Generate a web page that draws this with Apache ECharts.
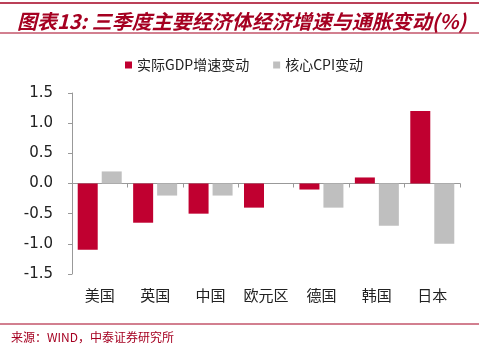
<!DOCTYPE html>
<html>
<head>
<meta charset="utf-8">
<script src="https://cdn.jsdelivr.net/npm/echarts@6/dist/echarts.min.js"></script>
<style>
  html, body { margin: 0; padding: 0; background: #fff; }
  #chart { width: 479px; height: 351px; }
</style>
</head>
<body>
<div id="chart"></div>
<script>
// 数据
var countries = ['美国', '英国', '中国', '欧元区', '德国', '韩国', '日本'];
var gdpChange = [-1.1, -0.65, -0.5, -0.4, -0.1, 0.1, 1.2];
var cpiChange = [0.2, -0.2, -0.2, 0, -0.4, -0.7, -1.0];
var yTicks = [-1.5, -1.0, -0.5, 0.0, 0.5, 1.0, 1.5];

var darkRed = '#a50021';
var myChart = echarts.init(document.getElementById('chart'));

var option = {
    animation: false,
    backgroundColor: '#fff',
    title: {
        text: '图表13: 三季度主要经济体经济增速与通胀变动(%)',
        left: 12,
        top: 6,
        textStyle: {
            fontFamily: 'Noto Sans CJK SC',
            fontSize: 20,
            fontStyle: 'italic',
            fontWeight: 'bold',
            color: darkRed
        }
    },
    legend: {
        left: 120,
        top: 53,
        itemWidth: 7,
        itemHeight: 7,
        itemGap: 24,
        icon: 'rect',
        textStyle: {
            fontFamily: 'Noto Sans CJK SC',
            fontSize: 14,
            color: '#222'
        },
        data: ['实际GDP增速变动', '核心CPI变动']
    },
    grid: {
        left: 72,
        right: 19,
        top: 93,
        bottom: 77
    },
    xAxis: [{
        type: 'category',
        data: countries,
        axisLine: { onZero: true, lineStyle: { color: '#999', width: 1 } },
        axisTick: { show: true, length: 4, lineStyle: { color: '#999' } },
        axisLabel: { show: false }
    }, {
        type: 'category',
        data: countries,
        position: 'bottom',
        axisLine: { show: false, onZero: false },
        axisTick: { show: false },
        axisLabel: {
            interval: 0,
            margin: 14,
            fontFamily: 'Noto Sans CJK SC',
            fontSize: 15,
            color: '#222'
        }
    }],
    yAxis: {
        type: 'value',
        min: yTicks[0],
        max: yTicks[yTicks.length - 1],
        interval: 0.5,
        axisLine: { show: true, lineStyle: { color: '#999' } },
        axisTick: { show: true, length: 4, lineStyle: { color: '#999' } },
        splitLine: { show: false },
        axisLabel: {
            margin: 19,
            fontFamily: 'DejaVu Sans',
            fontSize: 15,
            color: '#222',
            formatter: function (v) { return v.toFixed(1); }
        }
    },
    series: [{
        name: '实际GDP增速变动',
        type: 'bar',
        data: gdpChange,
        barWidth: 20,
        barGap: '20%',
        itemStyle: { color: '#c00030' }
    }, {
        name: '核心CPI变动',
        type: 'bar',
        data: cpiChange,
        barWidth: 20,
        itemStyle: { color: '#bfbfbf' }
    }],
    graphic: [
        { type: 'line', shape: { x1: 0, y1: 3, x2: 479, y2: 3 }, style: { stroke: darkRed, lineWidth: 1.5 } },
        { type: 'line', shape: { x1: 0, y1: 33, x2: 479, y2: 33 }, style: { stroke: darkRed, lineWidth: 1 } },
        { type: 'line', shape: { x1: 0, y1: 324, x2: 479, y2: 324 }, style: { stroke: darkRed, lineWidth: 1 } },
        {
            type: 'text', left: 11, top: 331,
            style: {
                text: '来源：WIND，中泰证券研究所',
                font: '12px "Noto Sans CJK SC"',
                fill: darkRed
            }
        }
    ]
};

myChart.setOption(option);
</script>
</body>
</html>
